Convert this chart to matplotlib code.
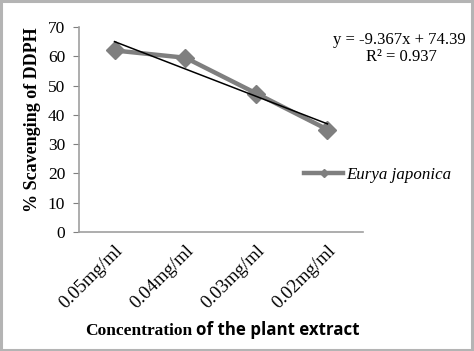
import numpy as np
import matplotlib
matplotlib.use("Agg")
import matplotlib.pyplot as plt
from matplotlib.patches import Rectangle

CATEGORIES = ["0.05mg/ml", "0.04mg/ml", "0.03mg/ml", "0.02mg/ml"]
SCAVENGING = [62.0, 59.5, 47.3, 35.0]
SERIES_NAME = "Eurya japonica"
TREND_SLOPE = -9.367
TREND_INTERCEPT = 74.39
TREND_R2 = 0.937
Y_TICKS = [0, 10, 20, 30, 40, 50, 60, 70]

SERIF = "Liberation Serif"
GREY = "#7f7f7f"


def create_plot():
    fig = plt.figure(figsize=(4.74, 3.51), dpi=100)
    ax = fig.add_axes([0.1667, 0.339, 0.599, 0.584])

    x = np.arange(1, len(CATEGORIES) + 1)
    ax.plot(x, SCAVENGING, color=GREY, lw=3.2, marker="D", ms=9,
            markeredgecolor=GREY, label=SERIES_NAME, zorder=2)

    # linear trend line, from the printed equation
    trend = TREND_SLOPE * x + TREND_INTERCEPT
    ax.plot(x, trend, color="black", lw=1.1, zorder=3)

    ax.set_xlim(0.5, len(CATEGORIES) + 0.5)
    ax.set_ylim(0, 70)
    ax.set_yticks(Y_TICKS)
    ax.set_xticks(x)
    ax.set_xticklabels(CATEGORIES, rotation=45, ha="right", va="top",
                       rotation_mode="anchor", fontfamily=SERIF, fontsize=13.5)
    for lbl in ax.get_yticklabels():
        lbl.set_fontfamily(SERIF)
        lbl.set_fontsize(12.5)

    ax.tick_params(axis="x", length=0, pad=7)
    ax.tick_params(axis="y", length=4, color=GREY, pad=6)
    for side in ("top", "right"):
        ax.spines[side].set_visible(False)
    for side in ("left", "bottom"):
        ax.spines[side].set_color("#a0a0a0")
        ax.spines[side].set_linewidth(1.2)

    ax.set_ylabel("% Scavenging of DDPH", fontfamily=SERIF, fontweight="bold",
                  fontsize=13)
    ax.yaxis.set_label_coords(-0.135, 0.55)

    fig.text(0.405, 0.045, "Concentration", ha="right", va="baseline",
             fontfamily=SERIF, fontweight="bold", fontsize=12.5)
    fig.text(0.413, 0.045, "of the plant extract", ha="left", va="baseline",
             fontfamily="Open Sans", fontweight="bold", fontsize=12.2)

    fig.text(0.983, 0.885, f"y = {TREND_SLOPE}x + {TREND_INTERCEPT}",
             ha="right", va="center", fontfamily=SERIF, fontsize=12)
    fig.text(0.847, 0.838, f"R\u00b2 = {TREND_R2}", ha="center", va="center",
             fontfamily=SERIF, fontsize=12)

    fig.legend(loc="center left", bbox_to_anchor=(0.642, 0.501), frameon=False,
               handlelength=2.3, handletextpad=0.15, markerscale=0.5,
               borderpad=0, borderaxespad=0,
               prop={"family": SERIF, "style": "italic", "size": 12.2})

    fig.patches.append(Rectangle((0.002, 0.004), 0.994, 0.994,
                                 transform=fig.transFigure, fill=False,
                                 edgecolor="#b4b4b4", lw=2.2))
    return fig


def main():
    fig = create_plot()
    fig.savefig("out.png", dpi=100)


if __name__ == "__main__":
    main()
